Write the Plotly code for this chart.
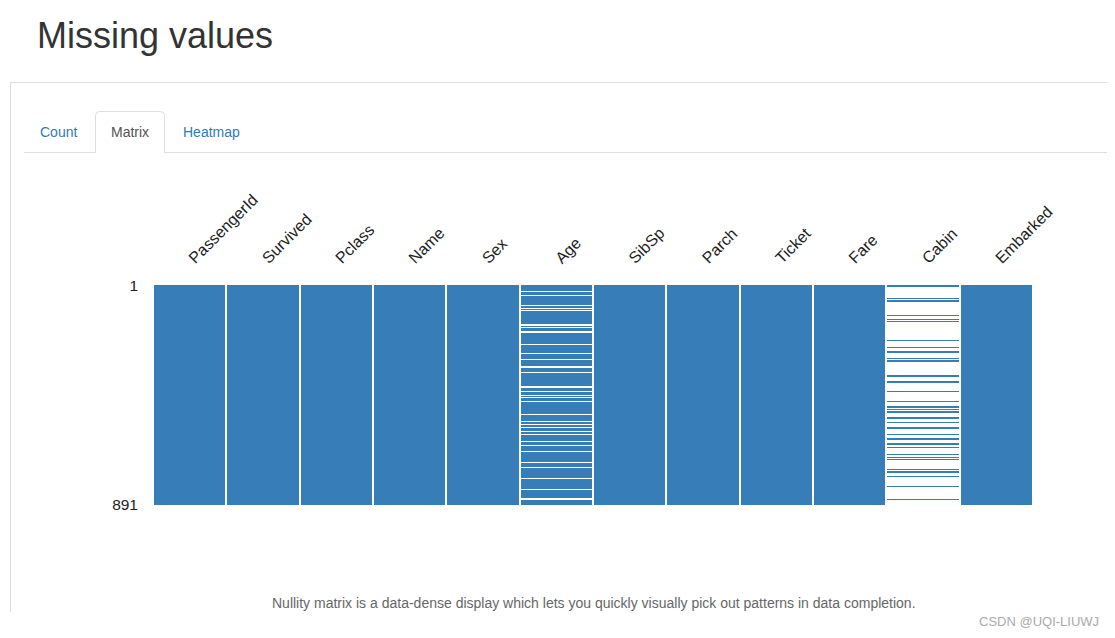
import plotly.graph_objects as go

# ---------------- data ----------------
COLUMNS = ["PassengerId", "Survived", "Pclass", "Name", "Sex", "Age",
           "SibSp", "Parch", "Ticket", "Fare", "Cabin", "Embarked"]
N_ROWS = 891
Y_TICKS = [1, 891]
Y_TICK_LABELS = ["1", "891"]

# visible missing row ranges (inclusive) in the Age column
AGE_MISSING = [(24, 27), (41, 44), (84, 87), (93, 96), (103, 106), (157, 160),
               (164, 167), (171, 174), (189, 194), (238, 242), (276, 280),
               (299, 303), (331, 337), (352, 356), (411, 416), (430, 434),
               (448, 451), (455, 458), (469, 473), (522, 527), (550, 554),
               (564, 567), (577, 580), (593, 596), (604, 607), (631, 634),
               (647, 651), (674, 677), (716, 720), (737, 741), (782, 786),
               (827, 832), (865, 869)]

# visible present row ranges (inclusive) in the Cabin column (rest missing)
CABIN_PRESENT = [(3, 9), (52, 55), (60, 67), (121, 124), (137, 140), (148, 151),
                 (222, 225), (242, 245), (253, 256), (267, 274), (295, 298),
                 (303, 310), (364, 372), (388, 395), (431, 434), (472, 475),
                 (490, 497), (502, 505), (512, 519), (534, 544), (554, 557),
                 (575, 584), (606, 609), (619, 626), (640, 647), (658, 661),
                 (687, 690), (696, 699), (707, 710), (747, 750), (756, 763),
                 (775, 778), (816, 819), (868, 871)]

TITLE = "Missing values"
TABS = ["Count", "Matrix", "Heatmap"]
CAPTION = ("Nullity matrix is a data-dense display which lets you quickly "
           "visually pick out patterns in data completion.")
WATERMARK = "CSDN @UQI-LIUWJ"

BLUE = "#377eb8"
FONT = "Liberation Sans, Arial, sans-serif"

# ---------------- build missing intervals per column ----------------
def complement(ranges, n):
    out, cur = [], 1
    for a, b in sorted(ranges):
        if a > cur:
            out.append((cur, a - 1))
        cur = b + 1
    if cur <= n:
        out.append((cur, n))
    return out

missing = {c: [] for c in COLUMNS}
missing["Age"] = AGE_MISSING
missing["Cabin"] = complement(CABIN_PRESENT, N_ROWS)

edges = {0.5, N_ROWS + 0.5}
for c in COLUMNS:
    for a, b in missing[c]:
        edges.add(a - 0.5)
        edges.add(b + 0.5)
edges = sorted(edges)

z = []
for k in range(len(edges) - 1):
    mid = (edges[k] + edges[k + 1]) / 2
    row = []
    for c in COLUMNS:
        is_missing = any(a - 0.5 <= mid <= b + 0.5 for a, b in missing[c])
        row.append(0 if is_missing else 1)
    z.append(row)

fig = go.Figure(go.Heatmap(
    x=COLUMNS, y=edges, z=z,
    zmin=0, zmax=1,
    colorscale=[[0, "white"], [1, BLUE]],
    showscale=False, xgap=2, hoverinfo="skip",
))

# page offset (browser body margin) and plot box in screen pixels
OFF = 8
W, H = 1115 - OFF, 638 - OFF
PL, PR, PT, PB = 153, 1033, 285, 505   # plot box in screen coordinates


def px(x):
    return (x - PL) / (PR - PL)


def py(y):
    return (PB - y) / (PB - PT)


fig.update_layout(
    width=W, height=H, autosize=False,
    margin=dict(l=PL - OFF, r=W - (PR - OFF), t=PT - OFF, b=H - (PB - OFF), pad=0),
    paper_bgcolor="white", plot_bgcolor="white",
    font=dict(family=FONT, color="#222"),
    showlegend=False,
    xaxis=dict(side="top", tickangle=-45, showgrid=False, zeroline=False,
               showline=False, ticks="", tickfont=dict(size=16, color="#222"),
               range=[-0.5, len(COLUMNS) - 0.5], fixedrange=True,
               ticklabelstandoff=14),
    yaxis=dict(autorange=False, range=[N_ROWS + 0.5, 0.5], tickvals=Y_TICKS,
               ticktext=Y_TICK_LABELS, showgrid=False, zeroline=False,
               showline=False, ticks="", tickfont=dict(size=15.5, color="#222"),
               ticklabelstandoff=14, fixedrange=True),
)

shapes = []
line_col = "#dddddd"
# panel border
shapes.append(dict(type="line", xref="paper", yref="paper", x0=px(10), x1=px(1115),
                   y0=py(82.5), y1=py(82.5), line=dict(color=line_col, width=1)))
shapes.append(dict(type="line", xref="paper", yref="paper", x0=px(10.5), x1=px(10.5),
                   y0=py(82.5), y1=py(612), line=dict(color=line_col, width=1)))
# tab bar bottom line (left part and right part around active tab)
shapes.append(dict(type="line", xref="paper", yref="paper", x0=px(24), x1=px(95.5),
                   y0=py(152.5), y1=py(152.5), line=dict(color=line_col, width=1)))
shapes.append(dict(type="line", xref="paper", yref="paper", x0=px(164.5), x1=px(1115),
                   y0=py(152.5), y1=py(152.5), line=dict(color=line_col, width=1)))
# active tab outline with rounded top corners
x0, x1, yt, yb = px(95.5), px(164.5), py(111.5), py(152.5)
rx, ry = 4 / (PR - PL), 4 / (PB - PT)
path = (f"M {x0} {yb} L {x0} {yt - ry} Q {x0} {yt} {x0 + rx} {yt} "
        f"L {x1 - rx} {yt} Q {x1} {yt} {x1} {yt - ry} L {x1} {yb}")
shapes.append(dict(type="path", xref="paper", yref="paper", path=path,
                   line=dict(color=line_col, width=1)))
fig.update_layout(shapes=shapes)

ann = []
ann.append(dict(text=TITLE, x=px(35), y=py(35), xref="paper", yref="paper",
                xanchor="left", yanchor="middle", showarrow=False,
                font=dict(size=36, color="#333", family=FONT)))
tab_x = [58, 130, 211]
tab_col = ["#337ab7", "#555555", "#337ab7"]
for t, x, col in zip(TABS, tab_x, tab_col):
    ann.append(dict(text=t, x=px(x), y=py(132), xref="paper", yref="paper",
                    xanchor="center", yanchor="middle", showarrow=False,
                    font=dict(size=14, color=col, family=FONT)))
ann.append(dict(text=CAPTION, x=px(593.5), y=py(603), xref="paper", yref="paper",
                xanchor="center", yanchor="middle", showarrow=False,
                font=dict(size=14, color="#666", family=FONT)))
ann.append(dict(text=WATERMARK, x=px(1101), y=py(621), xref="paper", yref="paper",
                xanchor="right", yanchor="middle", showarrow=False,
                font=dict(size=13, color="#aaaaaa", family=FONT)))
fig.update_layout(annotations=ann)

fig.write_html("out.html")
